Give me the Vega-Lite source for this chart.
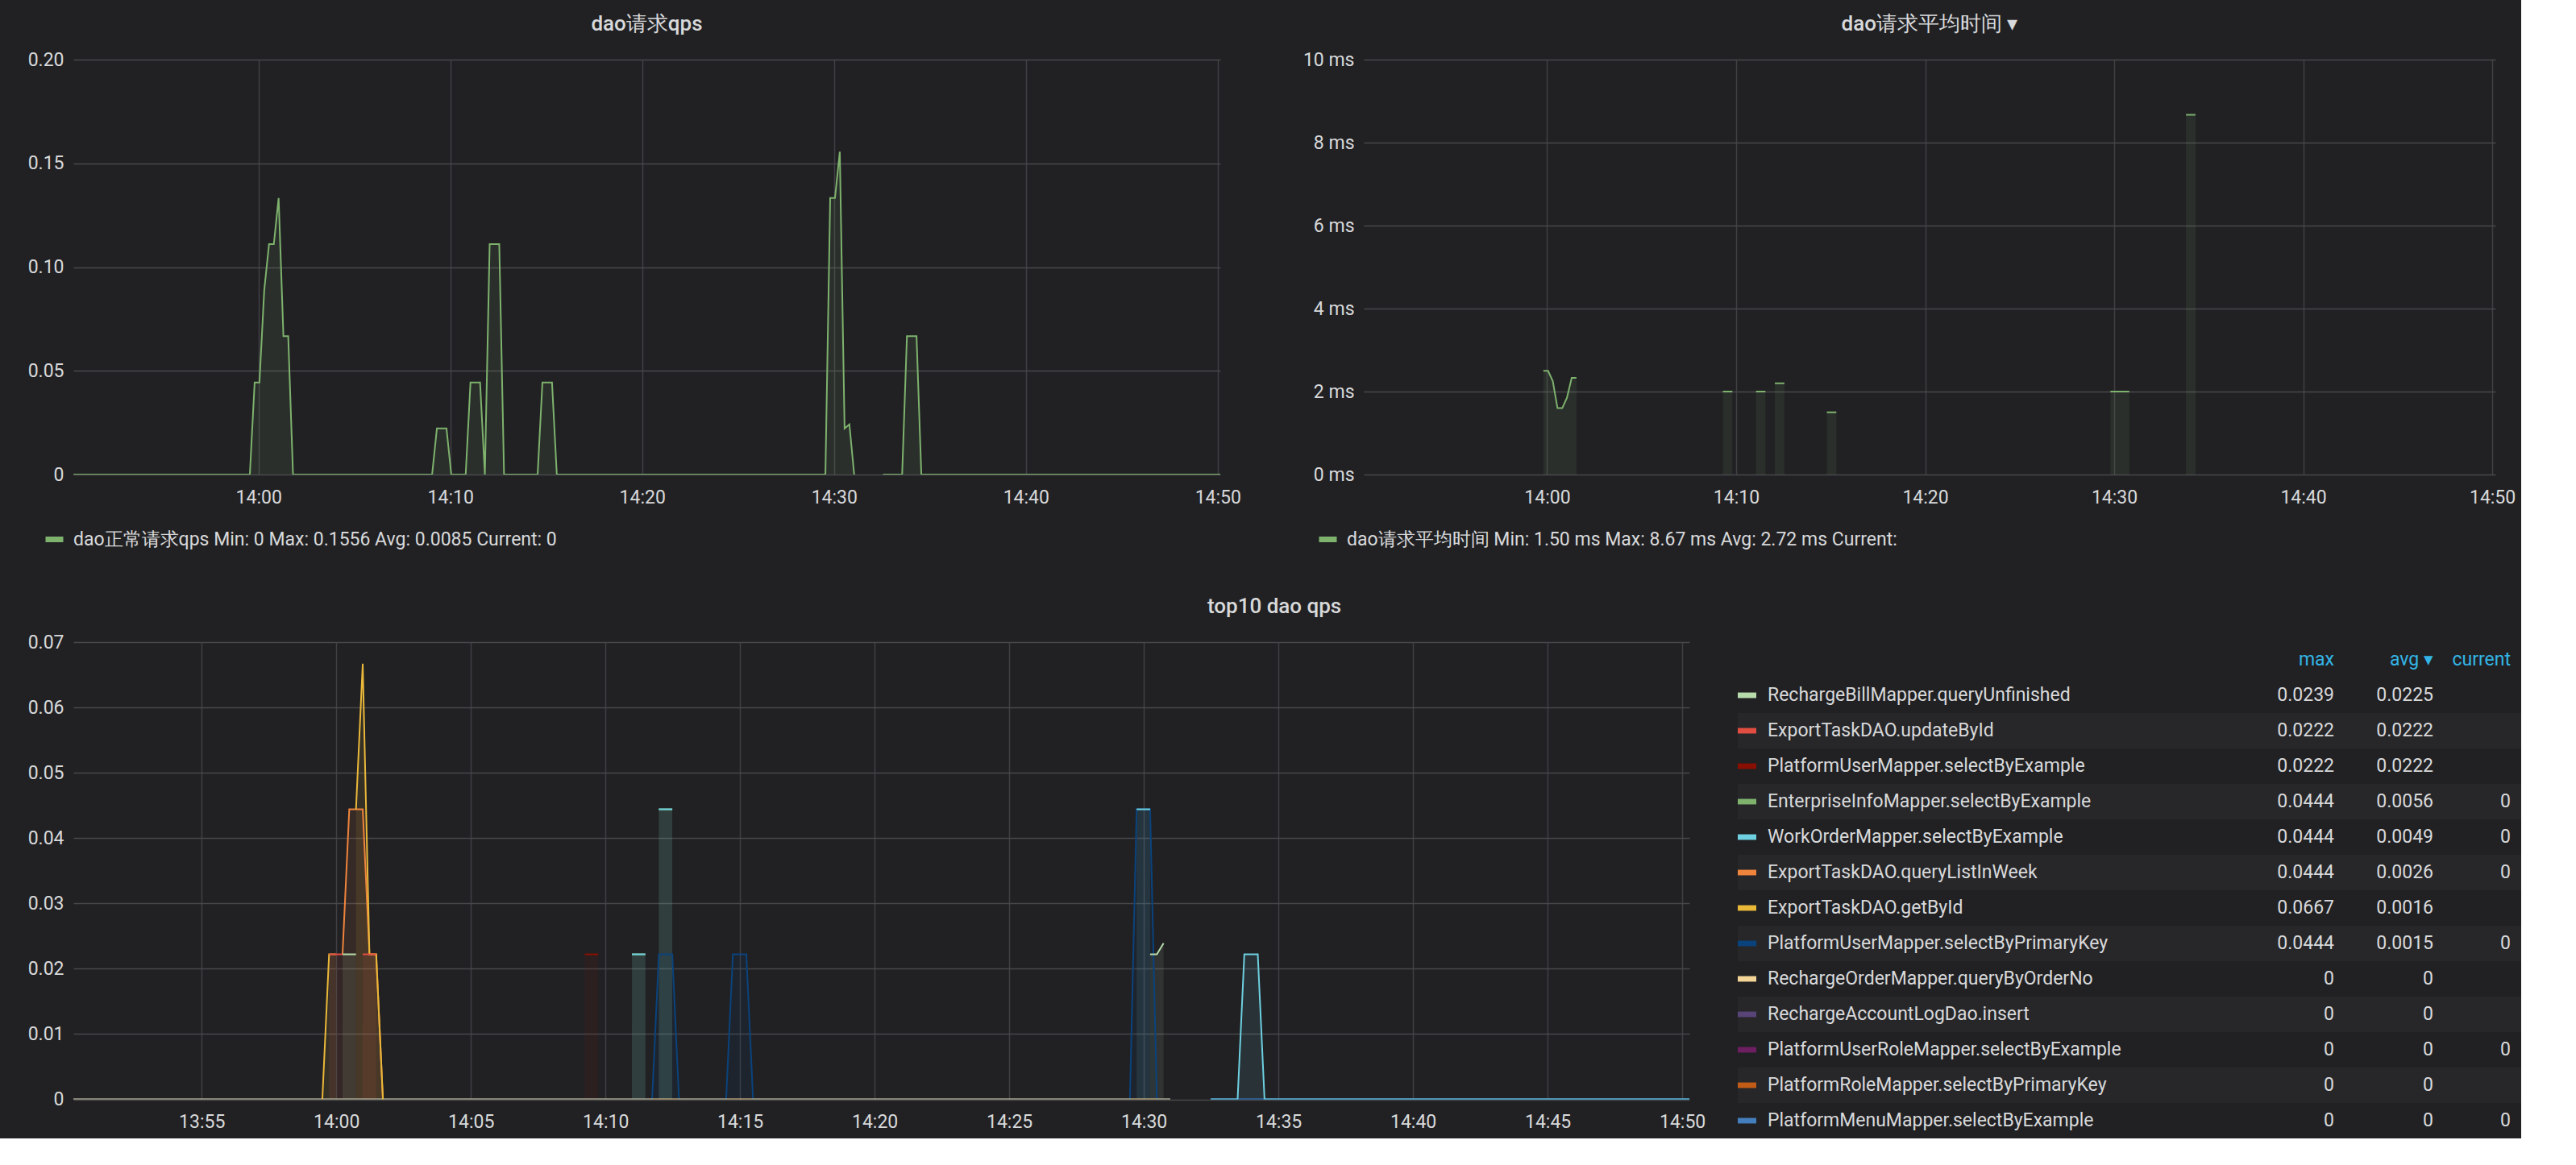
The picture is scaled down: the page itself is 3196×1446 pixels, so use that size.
{
  "$schema": "https://vega.github.io/schema/vega-lite/v6.json",
  "background": "#212124",
  "padding": {"left": 34, "top": 17, "right": 0, "bottom": 0},
  "config": {
    "font": "Roboto",
    "view": {"stroke": null},
    "axis": {"domain": false, "ticks": false, "labelFontSize": 23, "labelColor": "#d8d9da", "gridColor": "#48484b", "gridWidth": 1.5},
    "axisX": {"gridColor": "#404043", "labelPadding": 17},
    "axisY": {"labelPadding": 12},
    "title": {"fontSize": 26, "fontWeight": 500, "color": "#d8d9da", "offset": 20},
    "legend": {"labelFontSize": 23, "labelColor": "#d8d9da"},
    "text": {"fontSize": 23, "color": "#d8d9da"}
  },
  "datasets": {
    "tl": [
      {"t": "2019-06-01T13:50:18", "dao正常请求qps": 0},
      {"t": "2019-06-01T13:59:33", "dao正常请求qps": 0},
      {"t": "2019-06-01T13:59:48", "dao正常请求qps": 0.0444},
      {"t": "2019-06-01T14:00:03", "dao正常请求qps": 0.0444},
      {"t": "2019-06-01T14:00:18", "dao正常请求qps": 0.0889},
      {"t": "2019-06-01T14:00:33", "dao正常请求qps": 0.1111},
      {"t": "2019-06-01T14:00:48", "dao正常请求qps": 0.1111},
      {"t": "2019-06-01T14:01:03", "dao正常请求qps": 0.1333},
      {"t": "2019-06-01T14:01:18", "dao正常请求qps": 0.0667},
      {"t": "2019-06-01T14:01:33", "dao正常请求qps": 0.0667},
      {"t": "2019-06-01T14:01:48", "dao正常请求qps": 0},
      {"t": "2019-06-01T14:09:03", "dao正常请求qps": 0},
      {"t": "2019-06-01T14:09:18", "dao正常请求qps": 0.0222},
      {"t": "2019-06-01T14:09:33", "dao正常请求qps": 0.0222},
      {"t": "2019-06-01T14:09:48", "dao正常请求qps": 0.0222},
      {"t": "2019-06-01T14:10:03", "dao正常请求qps": 0},
      {"t": "2019-06-01T14:10:48", "dao正常请求qps": 0},
      {"t": "2019-06-01T14:11:03", "dao正常请求qps": 0.0444},
      {"t": "2019-06-01T14:11:18", "dao正常请求qps": 0.0444},
      {"t": "2019-06-01T14:11:33", "dao正常请求qps": 0.0444},
      {"t": "2019-06-01T14:11:48", "dao正常请求qps": 0},
      {"t": "2019-06-01T14:12:03", "dao正常请求qps": 0.1111},
      {"t": "2019-06-01T14:12:18", "dao正常请求qps": 0.1111},
      {"t": "2019-06-01T14:12:33", "dao正常请求qps": 0.1111},
      {"t": "2019-06-01T14:12:48", "dao正常请求qps": 0},
      {"t": "2019-06-01T14:14:33", "dao正常请求qps": 0},
      {"t": "2019-06-01T14:14:48", "dao正常请求qps": 0.0444},
      {"t": "2019-06-01T14:15:03", "dao正常请求qps": 0.0444},
      {"t": "2019-06-01T14:15:18", "dao正常请求qps": 0.0444},
      {"t": "2019-06-01T14:15:33", "dao正常请求qps": 0},
      {"t": "2019-06-01T14:29:33", "dao正常请求qps": 0},
      {"t": "2019-06-01T14:29:48", "dao正常请求qps": 0.1333},
      {"t": "2019-06-01T14:30:03", "dao正常请求qps": 0.1333},
      {"t": "2019-06-01T14:30:18", "dao正常请求qps": 0.1556},
      {"t": "2019-06-01T14:30:33", "dao正常请求qps": 0.0222},
      {"t": "2019-06-01T14:30:48", "dao正常请求qps": 0.0242},
      {"t": "2019-06-01T14:31:03", "dao正常请求qps": 0},
      {"t": "2019-06-01T14:31:18", "dao正常请求qps": null},
      {"t": "2019-06-01T14:32:33", "dao正常请求qps": 0},
      {"t": "2019-06-01T14:33:33", "dao正常请求qps": 0},
      {"t": "2019-06-01T14:33:48", "dao正常请求qps": 0.0667},
      {"t": "2019-06-01T14:34:03", "dao正常请求qps": 0.0667},
      {"t": "2019-06-01T14:34:18", "dao正常请求qps": 0.0667},
      {"t": "2019-06-01T14:34:33", "dao正常请求qps": 0},
      {"t": "2019-06-01T14:50:18", "dao正常请求qps": 0}
    ],
    "tr": [
      {"t": "2019-06-01T13:59:48", "dao请求平均时间": 2.5},
      {"t": "2019-06-01T14:00:03", "dao请求平均时间": 2.5},
      {"t": "2019-06-01T14:00:18", "dao请求平均时间": 2.25},
      {"t": "2019-06-01T14:00:33", "dao请求平均时间": 1.6},
      {"t": "2019-06-01T14:00:48", "dao请求平均时间": 1.6},
      {"t": "2019-06-01T14:01:03", "dao请求平均时间": 1.85},
      {"t": "2019-06-01T14:01:18", "dao请求平均时间": 2.33},
      {"t": "2019-06-01T14:01:33", "dao请求平均时间": 2.33},
      {"t": "2019-06-01T14:01:48", "dao请求平均时间": null},
      {"t": "2019-06-01T14:09:18", "dao请求平均时间": 2.0},
      {"t": "2019-06-01T14:09:33", "dao请求平均时间": 2.0},
      {"t": "2019-06-01T14:09:48", "dao请求平均时间": 2.0},
      {"t": "2019-06-01T14:10:03", "dao请求平均时间": null},
      {"t": "2019-06-01T14:11:03", "dao请求平均时间": 2.0},
      {"t": "2019-06-01T14:11:18", "dao请求平均时间": 2.0},
      {"t": "2019-06-01T14:11:33", "dao请求平均时间": 2.0},
      {"t": "2019-06-01T14:11:48", "dao请求平均时间": null},
      {"t": "2019-06-01T14:12:03", "dao请求平均时间": 2.2},
      {"t": "2019-06-01T14:12:18", "dao请求平均时间": 2.2},
      {"t": "2019-06-01T14:12:33", "dao请求平均时间": 2.2},
      {"t": "2019-06-01T14:12:48", "dao请求平均时间": null},
      {"t": "2019-06-01T14:14:48", "dao请求平均时间": 1.5},
      {"t": "2019-06-01T14:15:03", "dao请求平均时间": 1.5},
      {"t": "2019-06-01T14:15:18", "dao请求平均时间": 1.5},
      {"t": "2019-06-01T14:15:33", "dao请求平均时间": null},
      {"t": "2019-06-01T14:29:48", "dao请求平均时间": 2.0},
      {"t": "2019-06-01T14:30:03", "dao请求平均时间": 2.0},
      {"t": "2019-06-01T14:30:18", "dao请求平均时间": 2.0},
      {"t": "2019-06-01T14:30:33", "dao请求平均时间": 2.0},
      {"t": "2019-06-01T14:30:48", "dao请求平均时间": 2.0},
      {"t": "2019-06-01T14:31:03", "dao请求平均时间": null},
      {"t": "2019-06-01T14:33:48", "dao请求平均时间": 8.67},
      {"t": "2019-06-01T14:34:03", "dao请求平均时间": 8.67},
      {"t": "2019-06-01T14:34:18", "dao请求平均时间": 8.67}
    ],
    "bt": [
      {"s": "PlatformUserMapper.selectByPrimaryKey", "t": "2019-06-01T13:50:14", "v": 0},
      {"s": "PlatformUserMapper.selectByPrimaryKey", "t": "2019-06-01T14:11:44", "v": 0},
      {"s": "PlatformUserMapper.selectByPrimaryKey", "t": "2019-06-01T14:11:59", "v": 0.0222},
      {"s": "PlatformUserMapper.selectByPrimaryKey", "t": "2019-06-01T14:12:14", "v": 0.0222},
      {"s": "PlatformUserMapper.selectByPrimaryKey", "t": "2019-06-01T14:12:29", "v": 0.0222},
      {"s": "PlatformUserMapper.selectByPrimaryKey", "t": "2019-06-01T14:12:44", "v": 0},
      {"s": "PlatformUserMapper.selectByPrimaryKey", "t": "2019-06-01T14:14:29", "v": 0},
      {"s": "PlatformUserMapper.selectByPrimaryKey", "t": "2019-06-01T14:14:44", "v": 0.0222},
      {"s": "PlatformUserMapper.selectByPrimaryKey", "t": "2019-06-01T14:14:59", "v": 0.0222},
      {"s": "PlatformUserMapper.selectByPrimaryKey", "t": "2019-06-01T14:15:14", "v": 0.0222},
      {"s": "PlatformUserMapper.selectByPrimaryKey", "t": "2019-06-01T14:15:29", "v": 0},
      {"s": "PlatformUserMapper.selectByPrimaryKey", "t": "2019-06-01T14:29:29", "v": 0},
      {"s": "PlatformUserMapper.selectByPrimaryKey", "t": "2019-06-01T14:29:44", "v": 0.0444},
      {"s": "PlatformUserMapper.selectByPrimaryKey", "t": "2019-06-01T14:29:59", "v": 0.0444},
      {"s": "PlatformUserMapper.selectByPrimaryKey", "t": "2019-06-01T14:30:14", "v": 0.0444},
      {"s": "PlatformUserMapper.selectByPrimaryKey", "t": "2019-06-01T14:30:29", "v": 0},
      {"s": "PlatformUserMapper.selectByPrimaryKey", "t": "2019-06-01T14:30:59", "v": 0},
      {"s": "PlatformUserMapper.selectByPrimaryKey", "t": "2019-06-01T14:31:14", "v": null},
      {"s": "PlatformUserMapper.selectByPrimaryKey", "t": "2019-06-01T14:32:29", "v": 0},
      {"s": "PlatformUserMapper.selectByPrimaryKey", "t": "2019-06-01T14:50:16", "v": 0},
      {"s": "PlatformMenuMapper.selectByExample", "t": "2019-06-01T14:32:29", "v": 0},
      {"s": "PlatformMenuMapper.selectByExample", "t": "2019-06-01T14:50:16", "v": 0},
      {"s": "EnterpriseInfoMapper.selectByExample", "t": "2019-06-01T14:10:59", "v": 0.0222},
      {"s": "EnterpriseInfoMapper.selectByExample", "t": "2019-06-01T14:11:14", "v": 0.0222},
      {"s": "EnterpriseInfoMapper.selectByExample", "t": "2019-06-01T14:11:29", "v": 0.0222},
      {"s": "EnterpriseInfoMapper.selectByExample", "t": "2019-06-01T14:11:44", "v": null},
      {"s": "EnterpriseInfoMapper.selectByExample", "t": "2019-06-01T14:11:59", "v": 0.0444},
      {"s": "EnterpriseInfoMapper.selectByExample", "t": "2019-06-01T14:12:14", "v": 0.0444},
      {"s": "EnterpriseInfoMapper.selectByExample", "t": "2019-06-01T14:12:29", "v": 0.0444},
      {"s": "RechargeOrderMapper.queryByOrderNo", "t": "2019-06-01T13:50:14", "v": 0},
      {"s": "RechargeOrderMapper.queryByOrderNo", "t": "2019-06-01T14:30:59", "v": 0},
      {"s": "ExportTaskDAO.queryListInWeek", "t": "2019-06-01T14:00:14", "v": 0.0222},
      {"s": "ExportTaskDAO.queryListInWeek", "t": "2019-06-01T14:00:29", "v": 0.0444},
      {"s": "ExportTaskDAO.queryListInWeek", "t": "2019-06-01T14:00:44", "v": 0.0444},
      {"s": "ExportTaskDAO.queryListInWeek", "t": "2019-06-01T14:00:59", "v": 0.0444},
      {"s": "ExportTaskDAO.queryListInWeek", "t": "2019-06-01T14:01:14", "v": 0.0222},
      {"s": "ExportTaskDAO.queryListInWeek", "t": "2019-06-01T14:01:29", "v": 0.0222},
      {"s": "ExportTaskDAO.queryListInWeek", "t": "2019-06-01T14:01:44", "v": 0},
      {"s": "ExportTaskDAO.getById", "t": "2019-06-01T13:59:29", "v": 0},
      {"s": "ExportTaskDAO.getById", "t": "2019-06-01T13:59:44", "v": 0.0222},
      {"s": "ExportTaskDAO.getById", "t": "2019-06-01T13:59:59", "v": 0.0222},
      {"s": "ExportTaskDAO.getById", "t": "2019-06-01T14:00:14", "v": null},
      {"s": "ExportTaskDAO.getById", "t": "2019-06-01T14:00:44", "v": 0.0444},
      {"s": "ExportTaskDAO.getById", "t": "2019-06-01T14:00:59", "v": 0.0667},
      {"s": "ExportTaskDAO.getById", "t": "2019-06-01T14:01:14", "v": 0.0222},
      {"s": "ExportTaskDAO.getById", "t": "2019-06-01T14:01:29", "v": 0.0222},
      {"s": "ExportTaskDAO.getById", "t": "2019-06-01T14:01:44", "v": 0},
      {"s": "ExportTaskDAO.updateById", "t": "2019-06-01T13:59:44", "v": 0.0222},
      {"s": "ExportTaskDAO.updateById", "t": "2019-06-01T13:59:59", "v": 0.0222},
      {"s": "ExportTaskDAO.updateById", "t": "2019-06-01T14:00:14", "v": 0.0222},
      {"s": "ExportTaskDAO.updateById", "t": "2019-06-01T14:00:29", "v": null},
      {"s": "ExportTaskDAO.updateById", "t": "2019-06-01T14:00:59", "v": 0.0222},
      {"s": "ExportTaskDAO.updateById", "t": "2019-06-01T14:01:14", "v": 0.0222},
      {"s": "ExportTaskDAO.updateById", "t": "2019-06-01T14:01:29", "v": 0.0222},
      {"s": "RechargeBillMapper.queryUnfinished", "t": "2019-06-01T14:00:14", "v": 0.0222},
      {"s": "RechargeBillMapper.queryUnfinished", "t": "2019-06-01T14:00:29", "v": 0.0222},
      {"s": "RechargeBillMapper.queryUnfinished", "t": "2019-06-01T14:00:44", "v": 0.0222},
      {"s": "RechargeBillMapper.queryUnfinished", "t": "2019-06-01T14:00:59", "v": null},
      {"s": "RechargeBillMapper.queryUnfinished", "t": "2019-06-01T14:30:14", "v": 0.0222},
      {"s": "RechargeBillMapper.queryUnfinished", "t": "2019-06-01T14:30:29", "v": 0.0222},
      {"s": "RechargeBillMapper.queryUnfinished", "t": "2019-06-01T14:30:44", "v": 0.0239},
      {"s": "PlatformUserMapper.selectByExample", "t": "2019-06-01T14:09:14", "v": 0.0222},
      {"s": "PlatformUserMapper.selectByExample", "t": "2019-06-01T14:09:29", "v": 0.0222},
      {"s": "PlatformUserMapper.selectByExample", "t": "2019-06-01T14:09:44", "v": 0.0222},
      {"s": "WorkOrderMapper.selectByExample", "t": "2019-06-01T14:10:59", "v": 0.0222},
      {"s": "WorkOrderMapper.selectByExample", "t": "2019-06-01T14:11:14", "v": 0.0222},
      {"s": "WorkOrderMapper.selectByExample", "t": "2019-06-01T14:11:29", "v": 0.0222},
      {"s": "WorkOrderMapper.selectByExample", "t": "2019-06-01T14:11:44", "v": null},
      {"s": "WorkOrderMapper.selectByExample", "t": "2019-06-01T14:11:59", "v": 0.0444},
      {"s": "WorkOrderMapper.selectByExample", "t": "2019-06-01T14:12:14", "v": 0.0444},
      {"s": "WorkOrderMapper.selectByExample", "t": "2019-06-01T14:12:29", "v": 0.0444},
      {"s": "WorkOrderMapper.selectByExample", "t": "2019-06-01T14:12:44", "v": null},
      {"s": "WorkOrderMapper.selectByExample", "t": "2019-06-01T14:29:44", "v": 0.0444},
      {"s": "WorkOrderMapper.selectByExample", "t": "2019-06-01T14:29:59", "v": 0.0444},
      {"s": "WorkOrderMapper.selectByExample", "t": "2019-06-01T14:30:14", "v": 0.0444},
      {"s": "WorkOrderMapper.selectByExample", "t": "2019-06-01T14:30:29", "v": null},
      {"s": "WorkOrderMapper.selectByExample", "t": "2019-06-01T14:32:29", "v": 0},
      {"s": "WorkOrderMapper.selectByExample", "t": "2019-06-01T14:33:29", "v": 0},
      {"s": "WorkOrderMapper.selectByExample", "t": "2019-06-01T14:33:44", "v": 0.0222},
      {"s": "WorkOrderMapper.selectByExample", "t": "2019-06-01T14:33:59", "v": 0.0222},
      {"s": "WorkOrderMapper.selectByExample", "t": "2019-06-01T14:34:14", "v": 0.0222},
      {"s": "WorkOrderMapper.selectByExample", "t": "2019-06-01T14:34:29", "v": 0},
      {"s": "WorkOrderMapper.selectByExample", "t": "2019-06-01T14:50:16", "v": 0}
    ],
    "tbl": [
      {"rank": 0, "name": "header", "max": "max", "avg": "avg ▾", "cur": "current"},
      {"rank": 1, "name": "RechargeBillMapper.queryUnfinished", "max": "0.0239", "avg": "0.0225", "cur": ""},
      {"rank": 2, "name": "ExportTaskDAO.updateById", "max": "0.0222", "avg": "0.0222", "cur": ""},
      {"rank": 3, "name": "PlatformUserMapper.selectByExample", "max": "0.0222", "avg": "0.0222", "cur": ""},
      {"rank": 4, "name": "EnterpriseInfoMapper.selectByExample", "max": "0.0444", "avg": "0.0056", "cur": "0"},
      {"rank": 5, "name": "WorkOrderMapper.selectByExample", "max": "0.0444", "avg": "0.0049", "cur": "0"},
      {"rank": 6, "name": "ExportTaskDAO.queryListInWeek", "max": "0.0444", "avg": "0.0026", "cur": "0"},
      {"rank": 7, "name": "ExportTaskDAO.getById", "max": "0.0667", "avg": "0.0016", "cur": ""},
      {"rank": 8, "name": "PlatformUserMapper.selectByPrimaryKey", "max": "0.0444", "avg": "0.0015", "cur": "0"},
      {"rank": 9, "name": "RechargeOrderMapper.queryByOrderNo", "max": "0", "avg": "0", "cur": ""},
      {"rank": 10, "name": "RechargeAccountLogDao.insert", "max": "0", "avg": "0", "cur": ""},
      {"rank": 11, "name": "PlatformUserRoleMapper.selectByExample", "max": "0", "avg": "0", "cur": "0"},
      {"rank": 12, "name": "PlatformRoleMapper.selectByPrimaryKey", "max": "0", "avg": "0", "cur": ""},
      {"rank": 13, "name": "PlatformMenuMapper.selectByExample", "max": "0", "avg": "0", "cur": "0"}
    ]
  },
  "bounds": "full",
  "spacing": 56,
  "resolve": {"scale": {"color": "independent"}, "legend": {"color": "independent"}},
  "vconcat": [
    {
      "bounds": "flush",
      "spacing": 178,
      "resolve": {"scale": {"color": "independent"}, "legend": {"color": "independent"}},
      "hconcat": [
        {
          "width": 1423,
          "height": 515,
          "title": "dao请求qps",
          "data": {"name": "tl"},
          "transform": [{"fold": ["dao正常请求qps"], "as": ["s", "v"]}],
          "encoding": {
            "x": {"field": "t", "type": "temporal",
              "scale": {"domain": [{"year": 2019, "month": 6, "date": 1, "hours": 13, "minutes": 50, "seconds": 21}, {"year": 2019, "month": 6, "date": 1, "hours": 14, "minutes": 50, "seconds": 8}], "nice": false},
              "axis": {"title": null, "format": "%H:%M", "grid": true,
                "values": [{"year": 2019, "month": 6, "date": 1, "hours": 14, "minutes": 0}, {"year": 2019, "month": 6, "date": 1, "hours": 14, "minutes": 10}, {"year": 2019, "month": 6, "date": 1, "hours": 14, "minutes": 20}, {"year": 2019, "month": 6, "date": 1, "hours": 14, "minutes": 30}, {"year": 2019, "month": 6, "date": 1, "hours": 14, "minutes": 40}, {"year": 2019, "month": 6, "date": 1, "hours": 14, "minutes": 50}]}},
            "y": {"field": "v", "type": "quantitative", "stack": null,
              "scale": {"domain": [0, 0.2], "nice": false},
              "axis": {"title": null, "values": [0, 0.05, 0.1, 0.15, 0.2], "labelExpr": "datum.value == 0 ? '0' : format(datum.value, '.2f')", "grid": true}}
          },
          "layer": [
            {"mark": {"type": "area", "color": "#7eb26d", "fillOpacity": 0.1, "clip": true}},
            {"mark": {"type": "line", "strokeWidth": 2, "clip": true},
              "encoding": {"color": {"field": "s", "type": "nominal",
                "scale": {"domain": ["dao正常请求qps"], "range": ["#7eb26d"]},
                "legend": {"orient": "none", "legendX": -38, "legendY": 581, "title": null, "symbolStrokeWidth": 7, "symbolSize": 484, "labelOffset": 9, "labelLimit": 3000,
                  "labelExpr": "datum.label + ' Min: 0 Max: 0.1556 Avg: 0.0085 Current: 0'"}}}}
          ]
        },
        {
          "width": 1404,
          "height": 515,
          "title": "dao请求平均时间 ▾",
          "data": {"name": "tr"},
          "transform": [{"fold": ["dao请求平均时间"], "as": ["s", "v"]}],
          "encoding": {
            "x": {"field": "t", "type": "temporal",
              "scale": {"domain": [{"year": 2019, "month": 6, "date": 1, "hours": 13, "minutes": 50, "seconds": 18}, {"year": 2019, "month": 6, "date": 1, "hours": 14, "minutes": 50, "seconds": 10}], "nice": false},
              "axis": {"title": null, "format": "%H:%M", "grid": true,
                "values": [{"year": 2019, "month": 6, "date": 1, "hours": 14, "minutes": 0}, {"year": 2019, "month": 6, "date": 1, "hours": 14, "minutes": 10}, {"year": 2019, "month": 6, "date": 1, "hours": 14, "minutes": 20}, {"year": 2019, "month": 6, "date": 1, "hours": 14, "minutes": 30}, {"year": 2019, "month": 6, "date": 1, "hours": 14, "minutes": 40}, {"year": 2019, "month": 6, "date": 1, "hours": 14, "minutes": 50}]}},
            "y": {"field": "v", "type": "quantitative", "stack": null,
              "scale": {"domain": [0, 10], "nice": false},
              "axis": {"title": null, "values": [0, 2, 4, 6, 8, 10], "labelExpr": "datum.value + ' ms'", "grid": true}}
          },
          "layer": [
            {"mark": {"type": "area", "color": "#7eb26d", "fillOpacity": 0.1, "clip": true}},
            {"mark": {"type": "line", "strokeWidth": 2, "clip": true},
              "encoding": {"color": {"field": "s", "type": "nominal",
                "scale": {"domain": ["dao请求平均时间"], "range": ["#7eb26d"]},
                "legend": {"orient": "none", "legendX": -59, "legendY": 581, "title": null, "symbolStrokeWidth": 7, "symbolSize": 484, "labelOffset": 9, "labelLimit": 3000,
                  "labelExpr": "datum.label + ' Min: 1.50 ms Max: 8.67 ms Avg: 2.72 ms Current:'"}}}}
          ]
        }
      ]
    },
    {
      "title": {"text": "top10 dao qps", "anchor": "middle"},
      "bounds": "flush",
      "spacing": 60,
      "hconcat": [
        {
          "width": 2005,
          "height": 567.5,
          "data": {"name": "bt"},
          "encoding": {
            "x": {"field": "t", "type": "temporal",
              "scale": {"domain": [{"year": 2019, "month": 6, "date": 1, "hours": 13, "minutes": 50, "seconds": 14}, {"year": 2019, "month": 6, "date": 1, "hours": 14, "minutes": 50, "seconds": 16}], "nice": false},
              "axis": {"title": null, "format": "%H:%M", "grid": true,
                "values": [{"year": 2019, "month": 6, "date": 1, "hours": 13, "minutes": 55}, {"year": 2019, "month": 6, "date": 1, "hours": 14, "minutes": 0}, {"year": 2019, "month": 6, "date": 1, "hours": 14, "minutes": 5}, {"year": 2019, "month": 6, "date": 1, "hours": 14, "minutes": 10}, {"year": 2019, "month": 6, "date": 1, "hours": 14, "minutes": 15}, {"year": 2019, "month": 6, "date": 1, "hours": 14, "minutes": 20}, {"year": 2019, "month": 6, "date": 1, "hours": 14, "minutes": 25}, {"year": 2019, "month": 6, "date": 1, "hours": 14, "minutes": 30}, {"year": 2019, "month": 6, "date": 1, "hours": 14, "minutes": 35}, {"year": 2019, "month": 6, "date": 1, "hours": 14, "minutes": 40}, {"year": 2019, "month": 6, "date": 1, "hours": 14, "minutes": 45}, {"year": 2019, "month": 6, "date": 1, "hours": 14, "minutes": 50}]}},
            "y": {"field": "v", "type": "quantitative", "stack": null,
              "scale": {"domain": [0, 0.07], "nice": false},
              "axis": {"title": null, "values": [0, 0.01, 0.02, 0.03, 0.04, 0.05, 0.06, 0.07], "labelExpr": "datum.value == 0 ? '0' : format(datum.value, '.2f')", "grid": true}},
            "color": {"field": "s", "type": "nominal", "legend": null,
              "scale": {
                "domain": ["RechargeBillMapper.queryUnfinished", "ExportTaskDAO.updateById", "PlatformUserMapper.selectByExample", "EnterpriseInfoMapper.selectByExample", "WorkOrderMapper.selectByExample", "ExportTaskDAO.queryListInWeek", "ExportTaskDAO.getById", "PlatformUserMapper.selectByPrimaryKey", "RechargeOrderMapper.queryByOrderNo", "RechargeAccountLogDao.insert", "PlatformUserRoleMapper.selectByExample", "PlatformRoleMapper.selectByPrimaryKey", "PlatformMenuMapper.selectByExample"],
                "range": ["#b7dbab", "#e24d42", "#890f02", "#7eb26d", "#6ed0e0", "#ef843c", "#eab839", "#0a437c", "#f4d598", "#584477", "#6d1f62", "#c15c17", "#447ebc"]}}
          },
          "layer": [
            {"mark": {"type": "area", "fillOpacity": 0.1, "clip": true}},
            {"mark": {"type": "line", "strokeWidth": 2, "clip": true}}
          ]
        },
        {
          "width": 972,
          "height": 616,
          "data": {"name": "tbl"},
          "encoding": {
            "y": {"field": "name", "type": "nominal", "axis": null, "sort": null,
              "scale": {"domain": ["header", "RechargeBillMapper.queryUnfinished", "ExportTaskDAO.updateById", "PlatformUserMapper.selectByExample", "EnterpriseInfoMapper.selectByExample", "WorkOrderMapper.selectByExample", "ExportTaskDAO.queryListInWeek", "ExportTaskDAO.getById", "PlatformUserMapper.selectByPrimaryKey", "RechargeOrderMapper.queryByOrderNo", "RechargeAccountLogDao.insert", "PlatformUserRoleMapper.selectByExample", "PlatformRoleMapper.selectByPrimaryKey", "PlatformMenuMapper.selectByExample"],
                "paddingInner": 0, "paddingOuter": 0}}
          },
          "layer": [
            {"transform": [{"filter": "datum.rank > 0 && datum.rank % 2 == 0"}],
              "mark": {"type": "rect", "color": "#27272a"},
              "encoding": {"x": {"value": 0}, "x2": {"value": 972}}},
            {"transform": [{"filter": "datum.rank > 0"}],
              "mark": {"type": "point", "shape": "M-1,-0.3H1V0.3H-1Z", "filled": true, "size": 529, "opacity": 1},
              "encoding": {"x": {"value": 11.5},
                "color": {"field": "name", "type": "nominal", "legend": null,
                  "scale": {
                    "domain": ["RechargeBillMapper.queryUnfinished", "ExportTaskDAO.updateById", "PlatformUserMapper.selectByExample", "EnterpriseInfoMapper.selectByExample", "WorkOrderMapper.selectByExample", "ExportTaskDAO.queryListInWeek", "ExportTaskDAO.getById", "PlatformUserMapper.selectByPrimaryKey", "RechargeOrderMapper.queryByOrderNo", "RechargeAccountLogDao.insert", "PlatformUserRoleMapper.selectByExample", "PlatformRoleMapper.selectByPrimaryKey", "PlatformMenuMapper.selectByExample"],
                    "range": ["#b7dbab", "#e24d42", "#890f02", "#7eb26d", "#6ed0e0", "#ef843c", "#eab839", "#0a437c", "#f4d598", "#584477", "#6d1f62", "#c15c17", "#447ebc"]}}}},
            {"transform": [{"filter": "datum.rank > 0"}],
              "mark": {"type": "text", "align": "left", "baseline": "middle"},
              "encoding": {"x": {"value": 37}, "text": {"field": "name"}}},
            {"mark": {"type": "text", "align": "right", "baseline": "middle"},
              "encoding": {"x": {"value": 740}, "text": {"field": "max"},
                "color": {"condition": {"test": "datum.rank == 0", "value": "#33b5e5"}, "value": "#d8d9da"}}},
            {"mark": {"type": "text", "align": "right", "baseline": "middle"},
              "encoding": {"x": {"value": 863}, "text": {"field": "avg"},
                "color": {"condition": {"test": "datum.rank == 0", "value": "#33b5e5"}, "value": "#d8d9da"}}},
            {"mark": {"type": "text", "align": "right", "baseline": "middle"},
              "encoding": {"x": {"value": 959}, "text": {"field": "cur"},
                "color": {"condition": {"test": "datum.rank == 0", "value": "#33b5e5"}, "value": "#d8d9da"}}}
          ]
        }
      ]
    }
  ]
}
